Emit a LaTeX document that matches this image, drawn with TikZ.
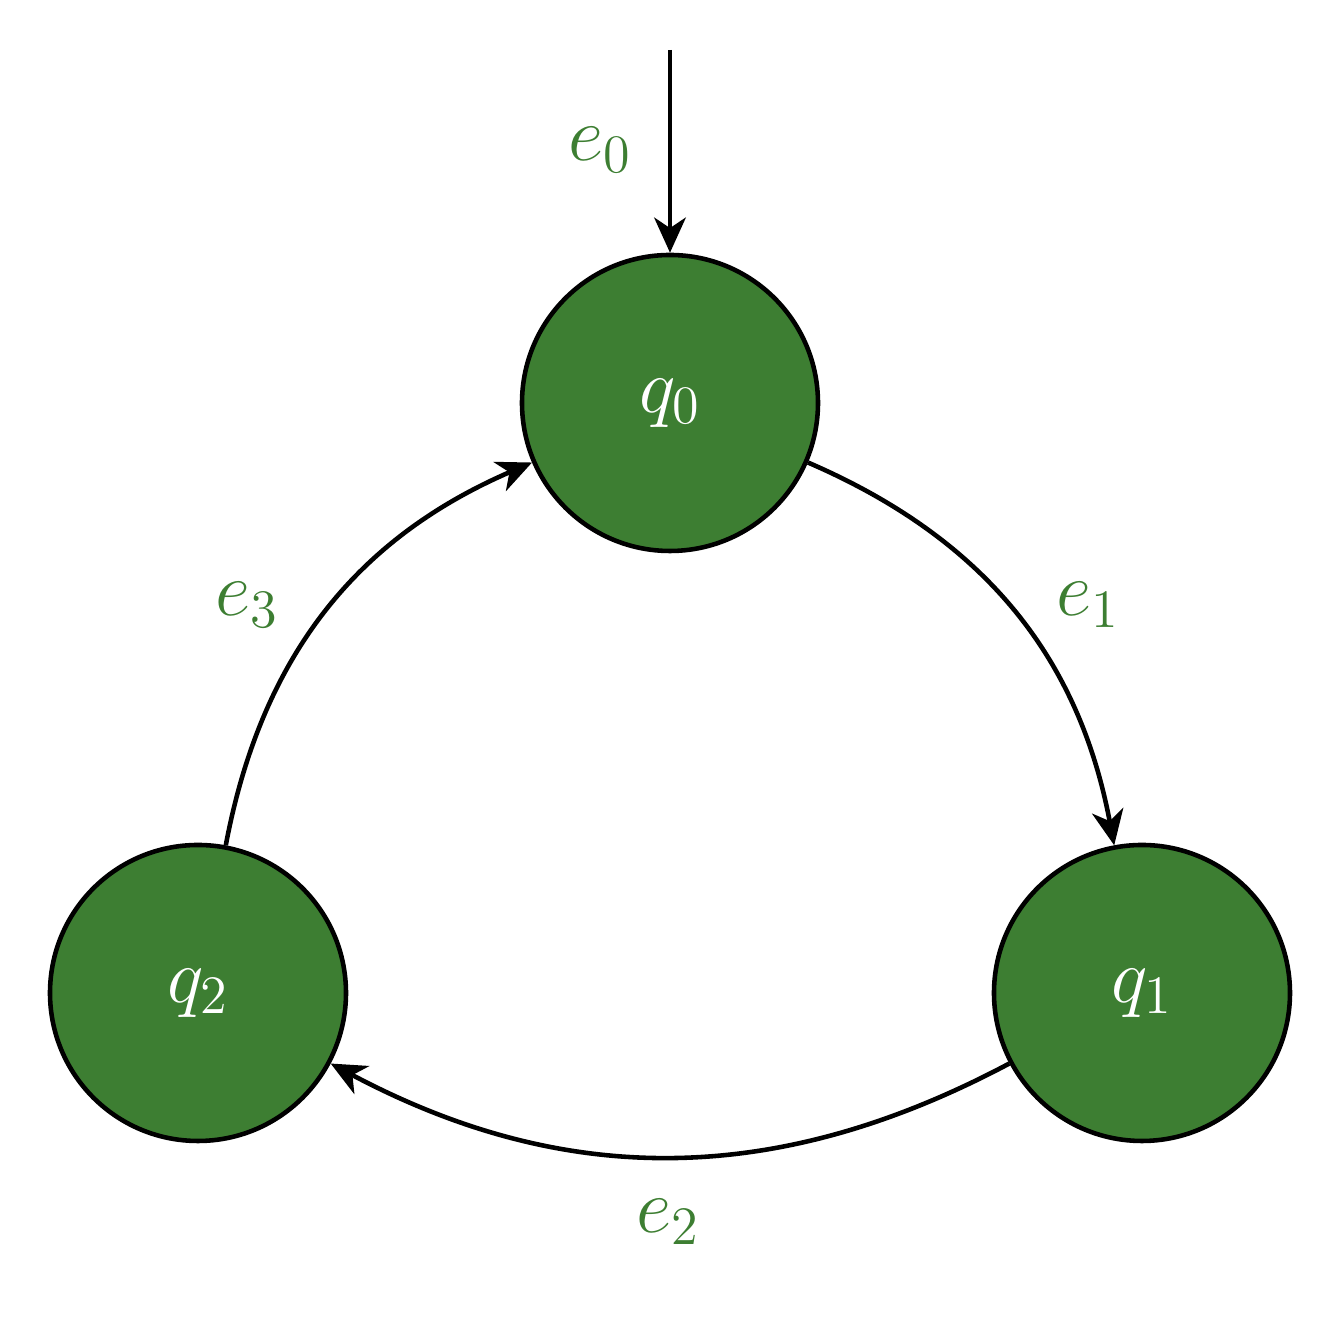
\documentclass[tikz,border=0pt]{standalone}
\usepackage{fix-cm}
\usetikzlibrary{arrows.meta}
\definecolor{stgreen}{RGB}{61,126,50}
\begin{document}
\begin{tikzpicture}[
  state/.style={circle,draw=black,line width=1.3pt,fill=stgreen,minimum size=2.96cm,inner sep=0pt,text=white,font=\fontsize{22}{26}\selectfont},
  lbl/.style={text=stgreen,font=\fontsize{22}{26}\selectfont},
  edge/.style={line width=1.3pt,-{Stealth[length=10pt,width=9pt,inset=3pt]}}
]
\useasboundingbox (0,0) rectangle (13.41,13.25);
\node[state] (q0) at (6.70,9.22) {$q_0$};
\node[state] (q1) at (11.42,3.32) {$q_1$};
\node[state] (q2) at (1.98,3.32) {$q_2$};
\coordinate (s) at (6.70,12.75);
\draw[edge] (s) -- (q0);
\draw[edge] (q0) to[bend left=28] (q1);
\draw[edge] (q1) to[bend left=28] (q2);
\draw[edge] (q2) to[bend left=28] (q0);
\node[lbl] (l0) at (6.0,11.75) {$e_0$};
\node[lbl] (l1) at (10.88,7.2) {$e_1$};
\node[lbl] (l2) at (6.68,1.03) {$e_2$};
\node[lbl] (l3) at (2.47,7.2) {$e_3$};
\end{tikzpicture}
\end{document}
